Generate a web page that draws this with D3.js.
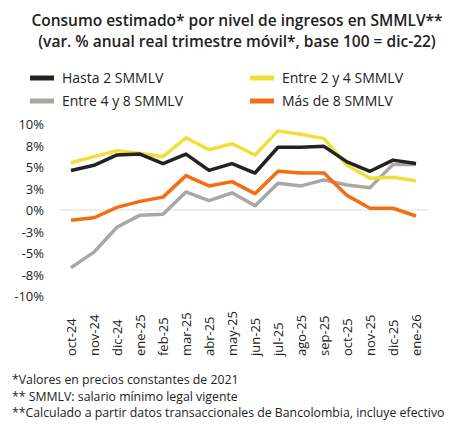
<!DOCTYPE html>
<html><head><meta charset="utf-8">
<script src="https://cdn.jsdelivr.net/npm/d3@7"></script>
<style>body{margin:0;background:#fff;font-family:"Open Sans",sans-serif}</style>
</head><body><svg id="c" width="474" height="424"></svg>
<script>
const months = ["oct-24","nov-24","dic-24","ene-25","feb-25","mar-25","abr-25","may-25","jun-25","jul-25","ago-25","sep-25","oct-25","nov-25","dic-25","ene-26"];
const hasta2 = [4.6,5.2,6.4,6.5,5.4,6.5,4.6,5.4,4.3,7.3,7.3,7.4,5.6,4.5,5.8,5.4];
const entre2y4 = [5.5,6.2,6.9,6.6,6.2,8.4,7.0,7.7,6.4,9.2,8.8,8.3,5.2,3.7,3.8,3.4];
const entre4y8 = [-6.7,-4.9,-2.0,-0.6,-0.5,2.1,1.1,2.0,0.5,3.1,2.8,3.5,2.9,2.6,5.3,5.3];
const mas8 = [-1.2,-0.9,0.3,1.0,1.5,4.0,2.8,3.3,1.9,4.5,4.3,4.3,1.7,0.2,0.2,-0.7];
const yTicks = [10,7.5,5,2.5,0,-2.5,-5,-7.5,-10];
const yTickLabels = ["10%","8%","5%","3%","0%","-3%","-5%","-8%","-10%"];
const series = [
  {name:"Hasta 2 SMMLV", vals:hasta2, color:"#222"},
  {name:"Entre 2 y 4 SMMLV", vals:entre2y4, color:"#f2de3a"},
  {name:"Entre 4 y 8 SMMLV", vals:entre4y8, color:"#aaa7a2"},
  {name:"Más de 8 SMMLV", vals:mas8, color:"#f26e12"}
];
const svg = d3.select("#c");
const x = d3.scalePoint().domain(months).range([71,416]);
const y = d3.scaleLinear().domain([-10,10]).range([296,124]);

svg.append("text").attr("x",237).attr("y",26).attr("text-anchor","middle")
  .attr("font-size",15.5).attr("font-weight",600).attr("fill","#222")
  .text("Consumo estimado* por nivel de ingresos en SMMLV**");
svg.append("text").attr("x",237).attr("y",47).attr("text-anchor","middle")
  .attr("font-size",15.5).attr("font-weight",600).attr("fill","#222")
  .text("(var. % anual real trimestre móvil*, base 100 = dic-22)");

const legPos = [[30,78],[250,78],[30,101],[250,101]];
series.forEach((s,i)=>{
  const [lx,ly]=legPos[i];
  svg.append("line").attr("x1",lx).attr("x2",lx+24).attr("y1",ly).attr("y2",ly)
    .attr("stroke",s.color).attr("stroke-width",5);
  svg.append("text").attr("x",lx+32).attr("y",ly+5).attr("font-size",14).attr("fill","#222").text(s.name);
});

svg.append("line").attr("x1",60).attr("x2",428).attr("y1",y(0)).attr("y2",y(0))
  .attr("stroke","#ddd").attr("stroke-width",1);

yTicks.forEach((t,i)=>{
  svg.append("text").attr("x",44).attr("y",y(t)+5).attr("text-anchor","end")
    .attr("font-size",13).attr("fill","#222").text(yTickLabels[i]);
});

months.forEach(m=>{
  svg.append("text").attr("transform",`translate(${x(m)+5},356) rotate(-90)`)
    .attr("font-size",13).attr("fill","#222").text(m);
});

const line = d3.line().x((d,i)=>x(months[i])).y(d=>y(d));
[series[2],series[3],series[1],series[0]].forEach(s=>{
  svg.append("path").attr("d",line(s.vals)).attr("fill","none")
    .attr("stroke",s.color).attr("stroke-width",3.5).attr("stroke-linejoin","round");
});

["*Valores en precios constantes de 2021","** SMMLV: salario mínimo legal vigente",
 "**Calculado a partir datos transaccionales de Bancolombia, incluye efectivo"].forEach((t,i)=>{
  svg.append("text").attr("x",12).attr("y",384+i*16.5).attr("font-size",12.3).attr("fill","#222").text(t);
});
</script></body></html>
